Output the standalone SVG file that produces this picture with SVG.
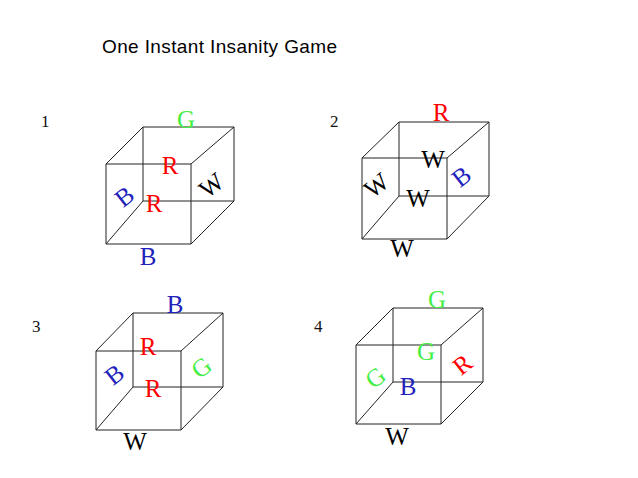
<svg xmlns="http://www.w3.org/2000/svg" width="638" height="478" viewBox="0 0 638 478">
<style>
.e{stroke:#222;stroke-width:1;fill:none}
.l{font-family:"Liberation Serif",serif;font-size:25px;text-anchor:middle}
.n{font-family:"Liberation Serif",serif;font-size:17px;fill:#111}
.r{fill:#ff0000}.g{fill:#44ee44}.b{fill:#2222bb}.w{fill:#000}
</style>
<rect width="638" height="478" fill="#fff"/>
<text x="102" y="53" font-family="Liberation Sans,sans-serif" font-size="19" textLength="235" fill="#000">One Instant Insanity Game</text>
<text class="n" x="41" y="127">1</text>
<text class="n" x="330" y="127">2</text>
<text class="n" x="32" y="332">3</text>
<text class="n" x="314" y="332">4</text>
<g id="connectors">
<path class="e" d="M106 164H191V244H106Z M143 127H234V201H143Z M106 164L143 127M191 164L234 127M191 244L234 201M106 244L143 201"/>
<path class="e" d="M362 158H447V239H362Z M399 122H489V196H399Z M362 158L399 122M447 158L489 122M447 239L489 196M362 239L399 196"/>
<path class="e" d="M96 351H181V430H96Z M133 313H223V387H133Z M96 351L133 313M181 351L223 313M181 430L223 387M96 430L133 387"/>
<path class="e" d="M356 345H441V424H356Z M393 308H483V382H393Z M356 345L393 308M441 345L483 308M441 424L483 382M356 424L393 382"/>
</g>
<g id="cube1">
<text class="l g" x="186" y="128">G</text>
<text class="l r" x="170" y="174">R</text>
<text class="l r" x="154" y="212">R</text>
<text class="l b" transform="translate(124,196) rotate(-38)" y="9">B</text>
<text class="l w" transform="translate(211,185) rotate(-38)" y="9">W</text>
<text class="l b" x="148" y="265">B</text>
</g>
<g id="cube2">
<text class="l r" x="441" y="121">R</text>
<text class="l w" x="433" y="168">W</text>
<text class="l w" x="418" y="207">W</text>
<text class="l w" transform="translate(376,185) rotate(-38)" y="9">W</text>
<text class="l b" transform="translate(461,176) rotate(-38)" y="9">B</text>
<text class="l w" x="402" y="257">W</text>
</g>
<g id="cube3">
<text class="l b" x="175" y="313">B</text>
<text class="l r" x="148" y="355">R</text>
<text class="l r" x="153" y="397">R</text>
<text class="l b" transform="translate(114,374) rotate(-38)" y="9">B</text>
<text class="l g" transform="translate(201,367) rotate(-38)" y="9">G</text>
<text class="l w" x="135" y="450">W</text>
</g>
<g id="cube4">
<text class="l g" x="437" y="308">G</text>
<text class="l g" x="426" y="360">G</text>
<text class="l b" x="408" y="395">B</text>
<text class="l g" transform="translate(375,377) rotate(-38)" y="9">G</text>
<text class="l r" transform="translate(462,364) rotate(-38)" y="9">R</text>
<text class="l w" x="397" y="445">W</text>
</g>
</svg>
